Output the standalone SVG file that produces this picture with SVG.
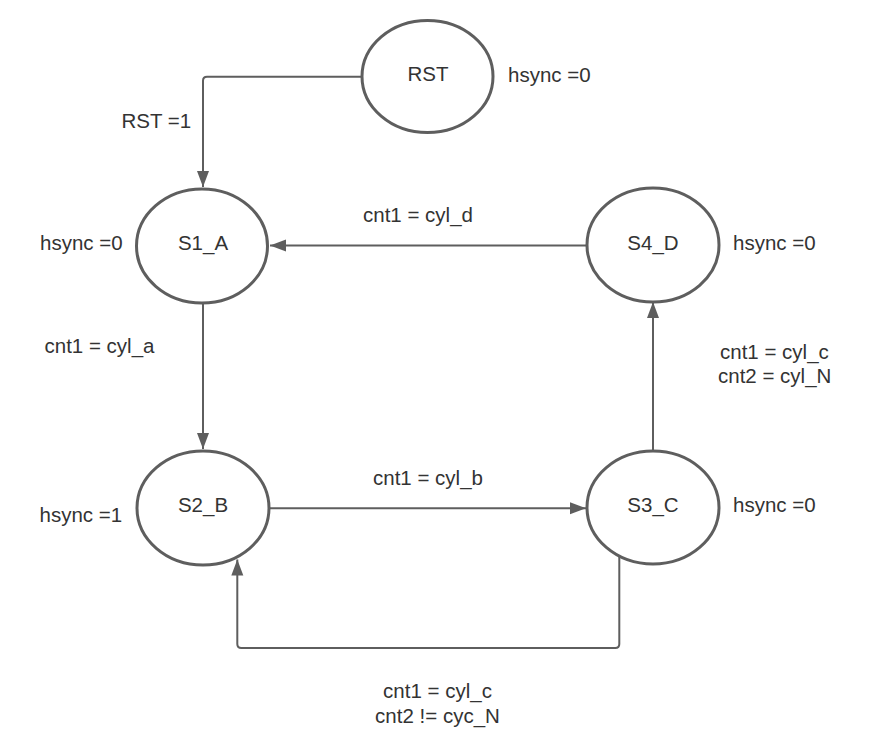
<svg xmlns="http://www.w3.org/2000/svg" width="883" height="751" viewBox="0 0 883 751">
<defs>
<style>
.node{fill:#ffffff;stroke:#5e5e5e;stroke-width:3}
.edge{fill:none;stroke:#5e5e5e;stroke-width:2}
text{font-family:"Liberation Sans",Arial,sans-serif;font-size:20.5px;fill:#333333}
.c{text-anchor:middle}
</style>
<marker id="arr" markerUnits="userSpaceOnUse" markerWidth="17" markerHeight="13" refX="16" refY="6" orient="auto">
<path d="M0,0 L16,6 L0,12 z" fill="#5e5e5e"/>
</marker>
</defs>
<rect width="883" height="751" fill="#ffffff"/>
<g id="connectors">
<path class="edge" d="M362,76.7 H207 Q203,76.7 203,80.7 V187" marker-end="url(#arr)"/>
<path class="edge" d="M587,245.5 H270" marker-end="url(#arr)"/>
<path class="edge" d="M203,303 V449" marker-end="url(#arr)"/>
<path class="edge" d="M269,508.3 H586" marker-end="url(#arr)"/>
<path class="edge" d="M653,451 V302" marker-end="url(#arr)"/>
<path class="edge" d="M619.3,556 V644 Q619.3,648 615.3,648 H241.3 Q237.3,648 237.3,644 V559.5" marker-end="url(#arr)"/>
<text x="121.5" y="128">RST =1</text>
<text x="363" y="222">cnt1 = cyl_d</text>
<text x="44.5" y="353">cnt1 = cyl_a</text>
<text x="373" y="485">cnt1 = cyl_b</text>
<text x="720" y="359">cnt1 = cyl_c</text>
<text x="718" y="383">cnt2 = cyl_N</text>
<text class="c" x="437.5" y="698">cnt1 = cyl_c</text>
<text class="c" x="437.5" y="723">cnt2 != cyc_N</text>
</g>
<g id="RST">
<ellipse class="node" cx="427.5" cy="76.5" rx="65.5" ry="56"/>
<text class="c" x="428" y="81">RST</text>
<text x="508" y="82">hsync =0</text>
</g>
<g id="S1_A">
<ellipse class="node" cx="202" cy="246" rx="65.5" ry="57"/>
<text class="c" x="203" y="250">S1_A</text>
<text x="40" y="250">hsync =0</text>
</g>
<g id="S4_D">
<ellipse class="node" cx="653" cy="245" rx="66" ry="57"/>
<text class="c" x="653" y="250">S4_D</text>
<text x="733" y="250">hsync =0</text>
</g>
<g id="S2_B">
<ellipse class="node" cx="203" cy="508" rx="66" ry="57"/>
<text class="c" x="203" y="512">S2_B</text>
<text x="39.5" y="521.5">hsync =1</text>
</g>
<g id="S3_C">
<ellipse class="node" cx="653" cy="507.5" rx="66" ry="56.5"/>
<text class="c" x="653" y="512">S3_C</text>
<text x="733" y="512">hsync =0</text>
</g>
</svg>
